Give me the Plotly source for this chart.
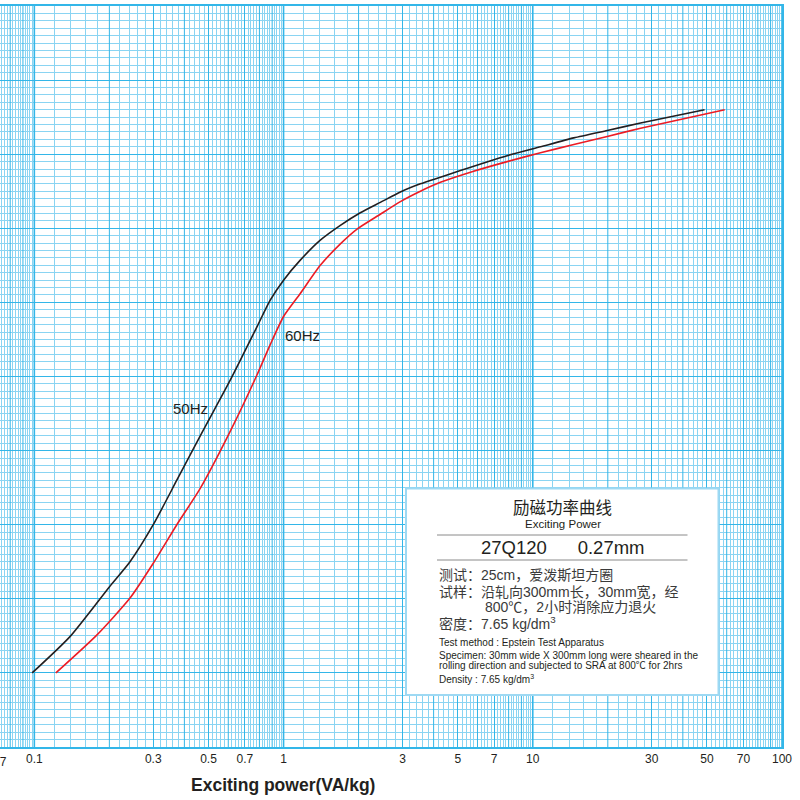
import plotly.graph_objects as go

# ---------------- data ----------------
x_50 = [0.098, 0.139, 0.200, 0.242, 0.300, 0.373, 0.477, 0.611, 0.782, 0.884, 1.0, 1.167,
        1.404, 1.690, 2.032, 2.445, 2.942, 3.540, 4.26, 5.124, 7.89, 10.74, 14.61, 19.89,
        27.07, 48.9]
b_50 = [1.100, 1.149, 1.216, 1.250, 1.300, 1.360, 1.428, 1.495, 1.567, 1.603, 1.630, 1.657,
        1.684, 1.704, 1.721, 1.735, 1.749, 1.760, 1.769, 1.778, 1.798, 1.810, 1.822, 1.832,
        1.842, 1.860]

x_60 = [0.122, 0.178, 0.242, 0.300, 0.373, 0.463, 0.615, 0.782, 0.884, 1.0, 1.167, 1.404,
        1.690, 1.972, 2.445, 2.942, 3.540, 4.26, 5.79, 7.89, 10.74, 14.61, 19.89, 27.07, 58.9]
b_60 = [1.100, 1.151, 1.201, 1.248, 1.300, 1.349, 1.428, 1.502, 1.543, 1.581, 1.612, 1.650,
        1.679, 1.699, 1.719, 1.736, 1.750, 1.762, 1.777, 1.790, 1.802, 1.813, 1.824, 1.835,
        1.860]

tick_labels = ["0.1", "0.3", "0.5", "0.7", "1", "3", "5", "7", "10", "30", "50", "70", "100"]
tick_values = [0.1, 0.3, 0.5, 0.7, 1, 3, 5, 7, 10, 30, 50, 70, 100]

series_names = ["50Hz", "60Hz"]

box_title_cn = "励磁功率曲线"
box_title_en = "Exciting Power"
box_grade = "27Q120&nbsp;&nbsp;&nbsp;&nbsp;&nbsp;&nbsp;0.27mm"
box_cn_lines = ["测试：25cm，爱泼斯坦方圈",
                "试样：沿轧向300mm长，30mm宽，经",
                "800℃，2小时消除应力退火",
                "密度：7.65 kg/dm<sup>3</sup>"]
box_en_lines = ["Test method : Epstein Test Apparatus",
                "Specimen: 30mm wide X 300mm long were sheared in the",
                "rolling direction and subjected to SRA at 800℃ for 2hrs",
                "Density : 7.65 kg/dm<sup>3</sup>"]

# ---------------- layout geometry ----------------
W, H = 800, 800
PL, PR, PT, PB = 0, 782, 6, 747
XMIN_LOG, XMAX_LOG = -1.1378, 2.0
YMIN, YMAX = 1.0, 2.0

def px(x):
    return (x - PL) / (PR - PL)

def py(y):
    return (PB - y) / (PB - PT)

MAJOR = "#33B6E8"
MINOR = "#8AD4F2"
FONT = "Liberation Sans, Arial, Noto Sans CJK SC"

# grid values
int_x = []      # unlabeled integer-multiple lines
minor_x = []
decades = [0.01, 0.1, 1, 10]
for d in decades:
    for k in range(1, 10):
        v = round(k * d, 6)
        if 10 ** XMIN_LOG <= v <= 100.0001 and not any(abs(v - t) < 1e-9 for t in tick_values):
            int_x.append(v)
    for j in range(1, 45):
        if j % 5 == 0:
            continue
        v = round(d * (1 + 0.2 * j), 6)
        if 10 ** XMIN_LOG <= v <= 100:
            minor_x.append(v)

decade_x = [0.1, 1, 10, 100]

fig = go.Figure()

ix, iy = [], []
for v in int_x:
    ix += [v, v, None]
    iy += [YMIN, YMAX, None]
fig.add_trace(go.Scatter(x=ix, y=iy, mode="lines", line=dict(color=MAJOR, width=1),
                         hoverinfo="skip", showlegend=False))
dx, dy = [], []
for v in decade_x:
    dx += [v, v, None]
    dy += [YMIN, YMAX, None]
fig.add_trace(go.Scatter(x=dx, y=dy, mode="lines", line=dict(color=MAJOR, width=1.6),
                         hoverinfo="skip", showlegend=False))

fig.add_trace(go.Scatter(x=x_50, y=b_50, mode="lines", name=series_names[0],
                         line=dict(color="#231F20", width=1.6, shape="spline", smoothing=0.6),
                         showlegend=False))
fig.add_trace(go.Scatter(x=x_60, y=b_60, mode="lines", name=series_names[1],
                         line=dict(color="#EC1C24", width=1.6, shape="spline", smoothing=0.6),
                         showlegend=False))

fig.update_xaxes(type="log", range=[XMIN_LOG, XMAX_LOG],
                 tickmode="array", tickvals=tick_values, ticktext=tick_labels,
                 showgrid=True, gridcolor=MAJOR, gridwidth=1,
                 minor=dict(tickmode="array", tickvals=minor_x, showgrid=True,
                            gridcolor=MINOR, gridwidth=1, ticks=""),
                 ticks="", zeroline=False,
                 showline=True, mirror=True, linecolor=MAJOR, linewidth=1.5,
                 tickfont=dict(family=FONT, size=12, color="#231F20"))
fig.update_yaxes(range=[YMIN, YMAX], dtick=0.1, tick0=1.0, showticklabels=False,
                 showgrid=True, gridcolor=MAJOR, gridwidth=1,
                 minor=dict(dtick=0.01, showgrid=True, gridcolor=MINOR, gridwidth=1, ticks=""),
                 ticks="", zeroline=False,
                 showline=True, mirror=True, linecolor=MAJOR, linewidth=2)

ann = []
ann.append(dict(x=px(-4.6), xref="paper", y=py(762), yref="paper", text="0.07",
                showarrow=False, xanchor="center", yanchor="middle",
                font=dict(family=FONT, size=12, color="#231F20")))
ann.append(dict(x=px(283.3), xref="paper", y=py(785), yref="paper",
                text="<b>Exciting power(VA/kg)</b>",
                showarrow=False, xanchor="center", yanchor="middle",
                font=dict(family=FONT, size=17.5, color="#231F20")))
ann.append(dict(x=px(190), xref="paper", y=py(408), yref="paper", text=series_names[0],
                showarrow=False, xanchor="center", yanchor="middle",
                font=dict(family=FONT, size=15, color="#231F20")))
ann.append(dict(x=px(302), xref="paper", y=py(335), yref="paper", text=series_names[1],
                showarrow=False, xanchor="center", yanchor="middle",
                font=dict(family=FONT, size=15, color="#231F20")))

TXT = "#3A3A3A"
ann.append(dict(x=px(562.5), xref="paper", y=py(508), yref="paper", text=box_title_cn,
                showarrow=False, xanchor="center", yanchor="middle",
                font=dict(family=FONT, size=16.5, color="#231F20")))
ann.append(dict(x=px(562.5), xref="paper", y=py(523.5), yref="paper", text=box_title_en,
                showarrow=False, xanchor="center", yanchor="middle",
                font=dict(family=FONT, size=11.5, color="#231F20")))
ann.append(dict(x=px(563), xref="paper", y=py(547.5), yref="paper", text=box_grade,
                showarrow=False, xanchor="center", yanchor="middle",
                font=dict(family=FONT, size=18.5, color="#231F20")))
cn_pos = [(437, 575), (437, 591.7), (482.7, 606.7), (437, 622.7)]
for t, (xx, yy) in zip(box_cn_lines, cn_pos):
    ann.append(dict(x=px(xx), xref="paper", y=py(yy), yref="paper", text=t,
                    showarrow=False, xanchor="left", yanchor="middle",
                    font=dict(family=FONT, size=14, color=TXT)))
en_pos = [(437, 642.3), (437, 655), (437, 665.7), (437, 679)]
for t, (xx, yy) in zip(box_en_lines, en_pos):
    ann.append(dict(x=px(xx), xref="paper", y=py(yy), yref="paper", text=t,
                    showarrow=False, xanchor="left", yanchor="middle",
                    font=dict(family=FONT, size=10, color="#231F20")))

shapes = [
    dict(type="rect", xref="paper", yref="paper", x0=px(406), x1=px(718.5), y0=py(695), y1=py(488.5),
         fillcolor="white", line=dict(color="#9ED9F3", width=2), layer="above"),
    dict(type="line", xref="paper", yref="paper", x0=px(437), x1=px(687.5), y0=py(535), y1=py(535),
         line=dict(color="#8A8A8A", width=1), layer="above"),
    dict(type="line", xref="paper", yref="paper", x0=px(437), x1=px(687.5), y0=py(560), y1=py(560),
         line=dict(color="#8A8A8A", width=1), layer="above"),
]

fig.update_layout(width=W, height=H, margin=dict(l=PL, r=W - PR, t=PT, b=H - PB),
                  plot_bgcolor="white", paper_bgcolor="white",
                  annotations=ann, shapes=shapes, showlegend=False)

fig.write_html("out.html", config={"displayModeBar": False},
               post_script="document.body.style.margin='0';document.body.style.padding='0';")
